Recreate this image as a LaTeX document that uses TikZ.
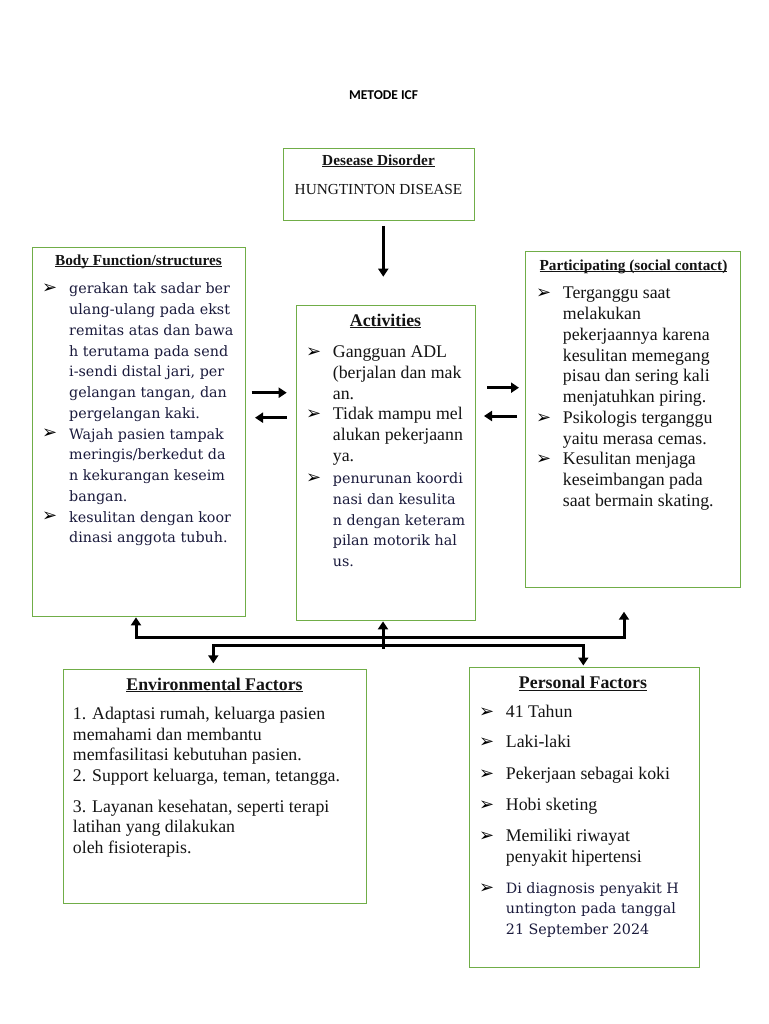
\documentclass[tikz,border=0pt]{standalone}
\usepackage{fontspec}
\setmainfont{Liberation Serif}
\newfontfamily\dvs{DejaVu Serif}
\newfontfamily\dvsans{DejaVu Sans}
\newfontfamily\carl{Carlito}
\usetikzlibrary{arrows.meta}
\definecolor{boxgreen}{HTML}{70AD47}
\definecolor{navy}{HTML}{1A1A3C}
\definecolor{ink}{HTML}{141414}
\newcommand\myul[1]{\leavevmode\setbox0\hbox{#1}\rlap{\rule[-0.13em]{\wd0}{0.065em}}\box0}
\begin{document}
\begin{tikzpicture}[x=1pt,y=-1pt,
  frame/.style={draw=boxgreen, line width=1.4pt, anchor=north west, inner sep=0pt, fill=none},
  serif/.style={font=\fontsize{17.8}{20.7}\selectfont, text=ink, anchor=north west, inner sep=0pt, align=left},
  dv/.style={font=\dvs\fontsize{14.3}{20.75}\selectfont, text=navy, anchor=north west, inner sep=0pt, align=left},
  bulletst/.style={font=\dvsans\fontsize{18}{20}\selectfont, text=black, anchor=base west, inner sep=0pt},
  ttl/.style={font=\bfseries\fontsize{15.3}{18}\selectfont, text=ink, anchor=base, inner sep=0pt},
  bigttl/.style={font=\bfseries\fontsize{17.8}{20}\selectfont, text=ink, anchor=base, inner sep=0pt},
  arr/.style={line width=3pt, -{Triangle[length=8pt,width=10pt]}},
  arr2/.style={line width=3pt, {Triangle[length=8pt,width=10pt]}-{Triangle[length=8pt,width=10pt]}, line join=miter}
]
\useasboundingbox[fill=white] (0,0) rectangle (768,1024);

% title
\node[font=\carl\bfseries\fontsize{13.5}{16}\selectfont, anchor=base, inner sep=0pt] (title) at (383.5,100) {METODE ICF};

% boxes
\node[frame, minimum width=191pt, minimum height=72pt] (dd) at (283,148) {};
\node[frame, minimum width=213pt, minimum height=369pt] (body) at (32,247) {};
\node[frame, minimum width=179pt, minimum height=315pt] (act) at (296,305) {};
\node[frame, minimum width=215pt, minimum height=336pt] (part) at (525,251) {};
\node[frame, minimum width=303pt, minimum height=234pt] (env) at (63,669) {};
\node[frame, draw=boxgreen, minimum width=230pt, minimum height=300pt] (pers) at (469,667) {};

% Desease Disorder
\node[ttl] (ddt) at (378.5,165.5) {\myul{Desease Disorder}};
\node[font=\fontsize{15.3}{18}\selectfont, text=ink, anchor=base, inner sep=0pt] (ddx) at (378.5,194.5) {HUNGTINTON DISEASE};

% Body function
\node[ttl] (bt) at (138.5,265.5) {\myul{Body Function/structures}};
\node[dv] (btx) at (69,279.2) {\strut gerakan tak sadar ber\\ulang-ulang pada ekst\\remitas atas dan bawa\\h terutama pada send\\i-sendi distal jari, per\\gelangan tangan, dan\\pergelangan kaki.\\Wajah pasien tampak\\meringis/berkedut da\\n kekurangan keseim\\bangan.\\kesulitan dengan koor\\dinasi anggota tubuh.};
\node[bulletst] (bb1) at (42,293.7) {➢};
\node[bulletst] (bb2) at (42,438.9) {➢};
\node[bulletst] (bb3) at (42,521.9) {➢};

% Activities
\node[bigttl] (at) at (385.5,326) {\myul{Activities}};
\node[serif] (ax1) at (332.7,343.1) {\strut Gangguan ADL\\(berjalan dan mak\\an.};
\node[serif] (ax2) at (332.7,405.2) {\strut Tidak mampu mel\\alukan pekerjaann\\ya.};
\node[dv, font=\dvs\fontsize{14.3}{20.7}\selectfont] (ax3) at (332.7,469.2) {\strut penurunan koordi\\nasi dan kesulita\\n dengan keteram\\pilan motorik hal\\us.};
\node[bulletst] (ab1) at (306,357.6) {➢};
\node[bulletst] (ab2) at (306,419.7) {➢};
\node[bulletst] (ab3) at (306,483.7) {➢};

% Participating
\node[ttl] (pt) at (633.5,270) {\myul{Participating (social contact)}};
\node[serif, font=\fontsize{17.8}{20.74}\selectfont] (ptx) at (562.7,284.1) {\strut Terganggu saat\\melakukan\\pekerjaannya karena\\kesulitan memegang\\pisau dan sering kali\\menjatuhkan piring.\\Psikologis terganggu\\yaitu merasa cemas.\\Kesulitan menjaga\\keseimbangan pada\\saat bermain skating.};
\node[bulletst] (pb1) at (536,298.6) {➢};
\node[bulletst] (pb2) at (536,423.0) {➢};
\node[bulletst] (pb3) at (536,464.5) {➢};

% Environmental
\node[bigttl] (et) at (214.5,690) {\myul{Environmental Factors}};
\node[serif, font=\fontsize{17.8}{20.35}\selectfont] (ex1) at (72.7,705.5) {\strut 1. Adaptasi rumah, keluarga pasien\\memahami dan membantu\\memfasilitasi kebutuhan pasien.\\2. Support keluarga, teman, tetangga.};
\node[serif, font=\fontsize{17.8}{20.35}\selectfont] (ex2) at (72.7,798.1) {\strut 3. Layanan kesehatan, seperti terapi\\latihan yang dilakukan\\oleh fisioterapis.};

% Personal
\node[bigttl] (prt) at (583,688.5) {\myul{Personal Factors}};
\node[serif] (px1) at (505.7,703.1) {\strut 41 Tahun};
\node[serif] (px2) at (505.7,733.1) {\strut Laki-laki};
\node[serif] (px3) at (505.7,764.8) {\strut Pekerjaan sebagai koki};
\node[serif] (px4) at (505.7,795.5) {\strut Hobi sketing};
\node[serif, font=\fontsize{17.8}{21.5}\selectfont] (px5) at (505.7,826.0) {\strut Memiliki riwayat\\penyakit hipertensi};
\node[dv, font=\dvs\fontsize{14.3}{20.7}\selectfont] (px6) at (505.7,878.5) {\strut Di diagnosis penyakit H\\untington pada tanggal\\21 September 2024};
\node[bulletst] (qb1) at (479,717.6) {➢};
\node[bulletst] (qb2) at (479,747.6) {➢};
\node[bulletst] (qb3) at (479,779.3) {➢};
\node[bulletst] (qb4) at (479,810.0) {➢};
\node[bulletst] (qb5) at (479,841.0) {➢};
\node[bulletst] (qb6) at (479,893.0) {➢};

% connectors
\coordinate (d1) at (383.3,226);
\coordinate (d2) at (383.3,276.7);
\draw[arr] (d1) -- (d2);

\coordinate (ba1) at (251.7,392.7);
\coordinate (ba2) at (286.7,392.7);
\coordinate (ba3) at (286.7,417.7);
\coordinate (ba4) at (255,417.7);
\draw[arr] (ba1) -- (ba2);
\draw[arr] (ba3) -- (ba4);

\coordinate (pa1) at (487,387.7);
\coordinate (pa2) at (519,387.7);
\coordinate (pa3) at (517,416);
\coordinate (pa4) at (484,416);
\draw[arr] (pa1) -- (pa2);
\draw[arr] (pa3) -- (pa4);

\coordinate (u1) at (136,637.3);
\coordinate (u2) at (624,637.3);
\coordinate (u3) at (624,611.7);
\draw[arr2] (body.south -| u1) -- (u1) -- (u2) -- (u3);

\coordinate (l1) at (213.3,645.7);
\coordinate (l2) at (583.3,645.7);
\coordinate (l3) at (213.3,663.3);
\coordinate (l4) at (583.3,665.5);
\draw[arr2] (l3) -- (l1) -- (l2) -- (l4);

\coordinate (c1) at (383,648.5);
\draw[arr] (c1) -- (act.south -| c1);
\end{tikzpicture}
\end{document}
